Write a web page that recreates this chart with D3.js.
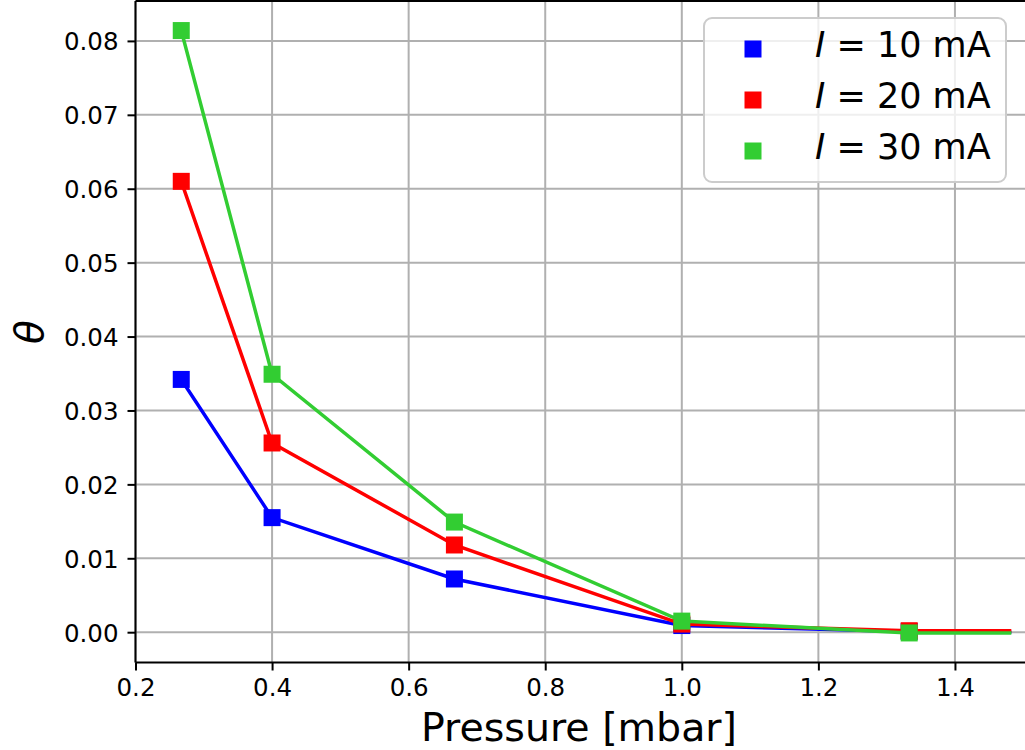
<!DOCTYPE html>
<html>
<head>
<meta charset="utf-8">
<script src="https://cdn.jsdelivr.net/npm/d3@7"></script>
<style>
  body { margin: 0; background: #fff; }
  svg { display: block; font-family: "DejaVu Sans", sans-serif; }
</style>
</head>
<body>
<div id="chart"></div>
<script>
const width = 1025, height = 750;

// pressure [mbar]; the last point is only on the lines, no marker
const pressure = [0.267, 0.4, 0.667, 1.0, 1.333, 1.48];
const markedCount = 5;
const theta10 = [0.0342, 0.0155, 0.0072, 0.0009, 0.0001, 0.0];
const theta20 = [0.0610, 0.0256, 0.0118, 0.0011, 0.0002, 0.0002];
const theta30 = [0.0814, 0.0349, 0.0149, 0.0015, -0.0001, -0.0001];
const labels = ["10 mA", "20 mA", "30 mA"];
const colors = ["#0000ff", "#ff0000", "#32cd32"];
const xTicks = [0.2, 0.4, 0.6, 0.8, 1.0, 1.2, 1.4];
const yTicks = [0.00, 0.01, 0.02, 0.03, 0.04, 0.05, 0.06, 0.07, 0.08];

const series = [theta10, theta20, theta30].map((vals, i) => ({
  label: labels[i], color: colors[i],
  points: vals.map((v, j) => ({ p: pressure[j], t: v }))
}));

const m = { left: 135.5, top: 1, bottom: 662.5, right: 1036.9 };
const x = d3.scaleLinear().domain([0.2, 1.52]).range([m.left, m.right]);
const y = d3.scaleLinear().domain([-0.0041, 0.0854]).range([m.bottom, m.top]);

const svg = d3.select("#chart").append("svg")
  .attr("width", width).attr("height", height);
svg.append("rect").attr("width", width).attr("height", height).attr("fill", "#fff");

// grid
svg.append("g").selectAll("line").data(xTicks).join("line")
  .attr("x1", d => x(d)).attr("x2", d => x(d))
  .attr("y1", m.top).attr("y2", m.bottom)
  .attr("stroke", "#b0b0b0").attr("stroke-width", 2);
svg.append("g").selectAll("line").data(yTicks).join("line")
  .attr("x1", m.left).attr("x2", m.right)
  .attr("y1", d => y(d)).attr("y2", d => y(d))
  .attr("stroke", "#b0b0b0").attr("stroke-width", 2);

// series
const line = d3.line().x(d => x(d.p)).y(d => y(d.t));
const ms = 17;
series.forEach(s => {
  const g = svg.append("g");
  g.append("path").datum(s.points)
    .attr("d", line).attr("fill", "none")
    .attr("stroke", s.color).attr("stroke-width", 3.5)
    .attr("stroke-linecap", "square");
  g.selectAll("rect").data(s.points.slice(0, markedCount)).join("rect")
    .attr("x", d => x(d.p) - ms / 2).attr("y", d => y(d.t) - ms / 2)
    .attr("width", ms).attr("height", ms)
    .attr("fill", s.color);
});

// axes
const xAxis = svg.append("g")
  .attr("transform", `translate(0,${m.bottom})`)
  .call(d3.axisBottom(x).tickValues(xTicks).tickFormat(d3.format(".1f")).tickSize(8).tickPadding(8));
const yAxis = svg.append("g")
  .attr("transform", `translate(${m.left},0)`)
  .call(d3.axisLeft(y).tickValues(yTicks).tickFormat(d3.format(".2f")).tickSize(8).tickPadding(9));
[xAxis, yAxis].forEach(a => {
  a.select(".domain").remove();
  a.selectAll(".tick line").attr("stroke", "#000").attr("stroke-width", 2);
  a.selectAll(".tick text").attr("font-size", 24.5).attr("fill", "#000")
    .attr("font-family", "DejaVu Sans");
});
yAxis.selectAll(".tick text").attr("dy", "0.36em");

// spines
svg.append("line").attr("x1", m.left).attr("x2", m.right).attr("y1", m.bottom).attr("y2", m.bottom)
  .attr("stroke", "#000").attr("stroke-width", 2);
svg.append("line").attr("x1", m.left).attr("x2", m.right).attr("y1", m.top).attr("y2", m.top)
  .attr("stroke", "#000").attr("stroke-width", 2);
svg.append("line").attr("x1", m.left).attr("x2", m.left).attr("y1", m.top).attr("y2", m.bottom)
  .attr("stroke", "#000").attr("stroke-width", 2);

// axis labels
svg.append("text").attr("x", 579).attr("y", 741)
  .attr("text-anchor", "middle").attr("font-size", 39.5)
  .text("Pressure [mbar]");
svg.append("text").attr("transform", "translate(43,332) rotate(-90)")
  .attr("text-anchor", "middle").attr("font-size", 39).attr("font-style", "italic")
  .text("θ");

// legend
const lg = svg.append("g");
lg.append("rect").attr("x", 704).attr("y", 18).attr("width", 302).attr("height", 164)
  .attr("rx", 8).attr("fill", "#fff").attr("fill-opacity", 0.8)
  .attr("stroke", "#cccccc").attr("stroke-width", 2);
series.forEach((s, i) => {
  const cy = 49 + i * 51;
  lg.append("rect").attr("x", 753 - ms / 2).attr("y", cy - ms / 2)
    .attr("width", ms).attr("height", ms).attr("fill", s.color);
  const t = lg.append("text").attr("x", 815).attr("y", cy + 8).attr("font-size", 35);
  t.append("tspan").attr("font-style", "italic").text("I");
  t.append("tspan").text(" = " + s.label);
});
</script>
</body>
</html>
